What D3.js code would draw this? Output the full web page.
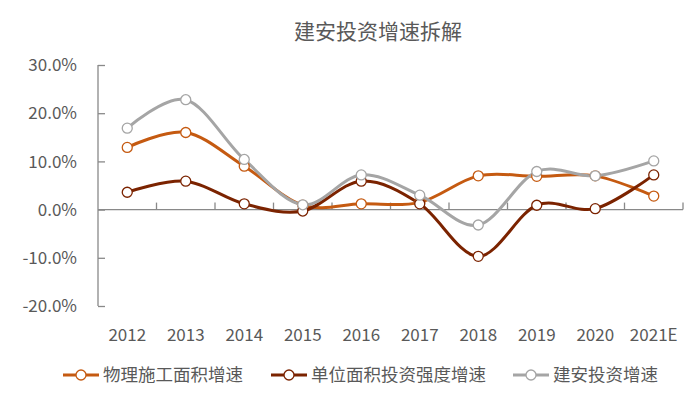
<!DOCTYPE html>
<html>
<head>
<meta charset="utf-8">
<script src="https://cdn.jsdelivr.net/npm/d3@7"></script>
<style>
  body { margin: 0; background: #fff; }
  svg text { font-family: "Noto Sans CJK SC", "Noto Sans", sans-serif; }
</style>
</head>
<body>
<div id="chart"></div>
<script>
// Chart data
const years = ["2012", "2013", "2014", "2015", "2016", "2017", "2018", "2019", "2020", "2021E"];
const areaGrowth = [12.9, 16.0, 9.0, 0.9, 1.2, 1.5, 7.0, 6.9, 7.0, 2.8];       // 物理施工面积增速
const intensityGrowth = [3.6, 5.9, 1.2, -0.3, 5.9, 1.2, -9.7, 0.9, 0.2, 7.2];  // 单位面积投资强度增速
const investGrowth = [16.9, 22.8, 10.4, 1.0, 7.2, 3.0, -3.2, 7.9, 7.0, 10.1];  // 建安投资增速
const yTicks = [30, 20, 10, 0, -10, -20];

const width = 692, height = 410;
const margin = { top: 65, right: 9, bottom: 104, left: 98 };

const series = [
  { name: "物理施工面积增速", values: areaGrowth, color: "#C55A11" },
  { name: "单位面积投资强度增速", values: intensityGrowth, color: "#7B2300" },
  { name: "建安投资增速", values: investGrowth, color: "#A5A5A5" }
];

const svg = d3.select("#chart").append("svg")
    .attr("width", width)
    .attr("height", height);

const x = d3.scaleBand()
    .domain(years)
    .range([margin.left, width - margin.right]);

const y = d3.scaleLinear()
    .domain([-20, 30])
    .range([height - margin.bottom, margin.top]);

// Title
svg.append("text")
    .attr("x", 378)
    .attr("y", 39)
    .attr("text-anchor", "middle")
    .attr("font-size", 21)
    .attr("fill", "#595959")
    .text("建安投资增速拆解");

// Y axis (ticks pointing inward)
const yAxis = svg.append("g")
    .attr("transform", `translate(${margin.left},0)`)
    .call(d3.axisRight(y).tickValues(yTicks).tickSize(7).tickFormat(""));
yAxis.select(".domain").attr("stroke", "#898989").attr("stroke-width", 1.3)
    .attr("d", `M0,${y(30)}V${y(-20)}`);
yAxis.selectAll(".tick line").attr("stroke", "#898989").attr("stroke-width", 1.3);

svg.append("g")
  .selectAll("text")
  .data(yTicks)
  .enter().append("text")
    .attr("x", 77)
    .attr("y", d => y(d))
    .attr("dy", "0.36em")
    .attr("text-anchor", "end")
    .attr("font-size", 17)
    .attr("fill", "#595959")
    .text(d => d.toFixed(1) + "%");

// X axis at zero, ticks at band edges pointing up
const edges = years.map(d => x(d)).concat([x.range()[1]]);
const xAxis = svg.append("g");
xAxis.append("line")
    .attr("x1", x.range()[0]).attr("x2", x.range()[1])
    .attr("y1", y(0)).attr("y2", y(0))
    .attr("stroke", "#898989").attr("stroke-width", 1.3);
xAxis.selectAll(".xt")
  .data(edges.slice(1))
  .enter().append("line")
    .attr("x1", d => d).attr("x2", d => d)
    .attr("y1", y(0)).attr("y2", y(0) - 7)
    .attr("stroke", "#898989").attr("stroke-width", 1.3);

svg.append("g")
  .selectAll("text")
  .data(years)
  .enter().append("text")
    .attr("x", d => x(d) + x.bandwidth() / 2)
    .attr("y", 341)
    .attr("text-anchor", "middle")
    .attr("font-size", 17)
    .attr("fill", "#595959")
    .text(d => d);

// Lines
const line = d3.line()
    .x((d, i) => x(years[i]) + x.bandwidth() / 2)
    .y(d => y(d))
    .curve(d3.curveCardinal.tension(0));

series.forEach(s => {
  svg.append("path")
      .attr("d", line(s.values))
      .attr("fill", "none")
      .attr("stroke", s.color)
      .attr("stroke-width", 3);
});

series.forEach(s => {
  svg.append("g")
    .selectAll("circle")
    .data(s.values)
    .enter().append("circle")
      .attr("cx", (d, i) => x(years[i]) + x.bandwidth() / 2)
      .attr("cy", d => y(d))
      .attr("r", 5)
      .attr("fill", "#fff")
      .attr("stroke", s.color)
      .attr("stroke-width", 1.3);
});

// Legend
const legendX = [63, 271, 513];
const legend = svg.append("g");
series.forEach((s, i) => {
  const g = legend.append("g").attr("transform", `translate(${legendX[i]},375)`);
  g.append("line")
      .attr("x1", 0).attr("x2", 36)
      .attr("stroke", s.color).attr("stroke-width", 3);
  g.append("circle")
      .attr("cx", 18).attr("r", 5)
      .attr("fill", "#fff").attr("stroke", s.color).attr("stroke-width", 1.3);
  g.append("text")
      .attr("x", 40)
      .attr("dy", "0.36em")
      .attr("font-size", 17.5)
      .attr("fill", "#595959")
      .text(s.name);
});
</script>
</body>
</html>
